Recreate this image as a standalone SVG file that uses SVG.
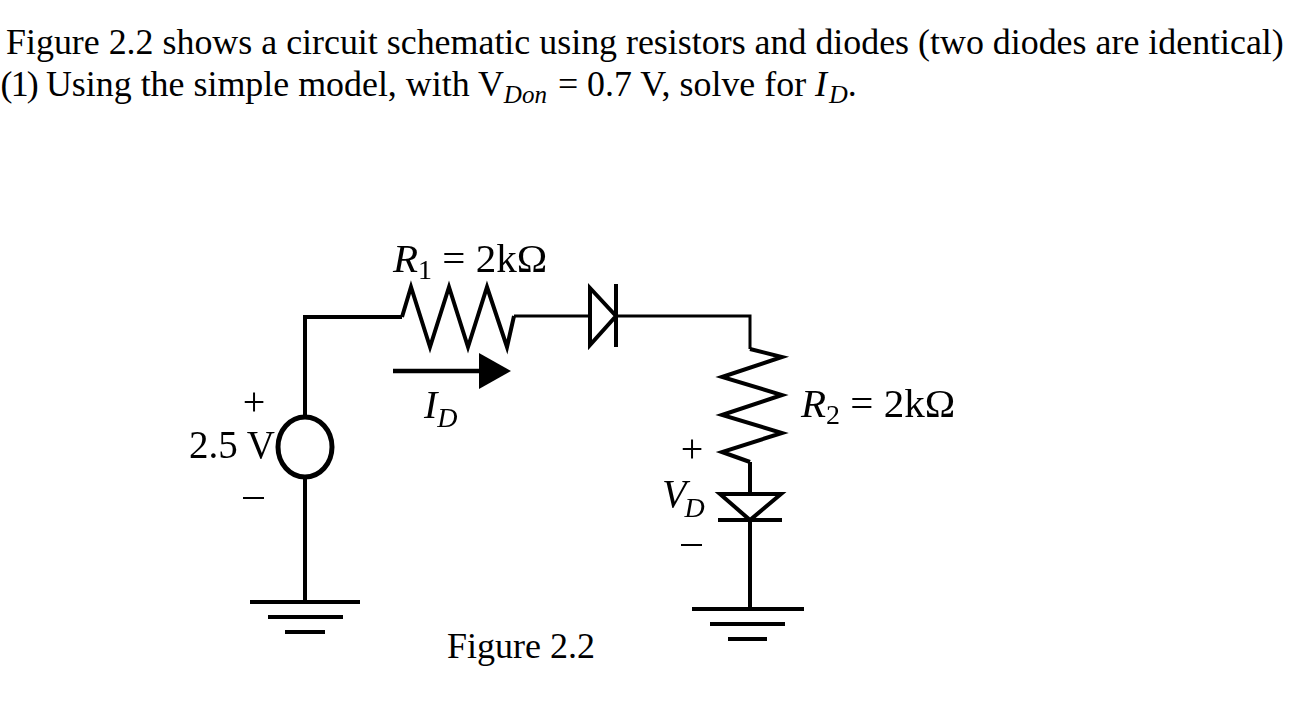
<svg xmlns="http://www.w3.org/2000/svg" width="1302" height="702" viewBox="0 0 1302 702">
<defs><filter id="soft" x="-5%" y="-5%" width="110%" height="110%"><feGaussianBlur stdDeviation="0.6"/></filter></defs>
<style>
text{font-family:"Liberation Serif","Times New Roman",serif;fill:#000}
.h{font-size:35.9px}
.l{font-size:40px}
.r{font-size:41px}
.i{font-style:italic}
.w{fill:none;stroke:#000;stroke-width:4;stroke-linejoin:miter}
.g{stroke:#000;stroke-width:4;fill:none}
.m{stroke:#000;stroke-width:2}
#circuit{filter:url(#soft)}
</style>
<rect width="1302" height="702" fill="#fff"/>
<g id="question">
<text class="h" x="6" y="54">Figure 2.2 shows a circuit schematic using resistors and diodes (two diodes are identical)</text>
<text class="h" x="0.5" y="96"><tspan letter-spacing="-1.8">(1)</tspan> Using the simple model, with V<tspan class="i" font-size="25" dy="7">Don</tspan><tspan dy="-7" dx="2"> = 0.7 V, solve for </tspan><tspan class="i">I</tspan><tspan class="i" font-size="26" dy="7" dx="2">D</tspan><tspan dy="-7">.</tspan></text>
</g>
<g id="circuit">
<g id="connectors">
<path class="w" d="M305 419V317H402"/>
<path class="w" d="M305 477V600"/>
<path class="w" d="M514 316H590" style="stroke-width:3"/>
<path class="w" d="M617 316H750V349" style="stroke-width:3"/>
<path class="w" d="M750 462V494"/>
<path class="w" d="M750 520V609"/>
</g>
<g id="source"><ellipse cx="305" cy="447" rx="27" ry="30" fill="#fff" stroke="#000" stroke-width="5"/>
<text x="189" y="458" style="font-size:39px">2.5 V</text>
<text class="l" x="254" y="415" text-anchor="middle">+</text>
<path class="m" d="M243 498H264"/>
</g>
<g id="R1"><path class="w" d="M402 317L411 287L430 347L449 287L468 347L487 287L507 347L514 316"/>
<text class="r" x="393" y="272"><tspan class="i">R</tspan><tspan font-size="28" dy="7">1</tspan><tspan dy="-7"> = 2kΩ</tspan></text></g>
<g id="D1"><path class="w" d="M590 288V345L616 316Z"/><path class="w" d="M616 284V347"/></g>
<g id="R2"><path class="w" d="M750 349L782 357L722 377L782 395L722 415L782 433L722 452L750 462"/>
<text class="r" x="801" y="417"><tspan class="i">R</tspan><tspan font-size="28" dy="7">2</tspan><tspan dy="-7"> = 2kΩ</tspan></text></g>
<g id="D2"><path class="w" d="M720 494H781L750 520Z"/><path class="w" d="M718 520H782"/>
<text class="l" x="692" y="462" text-anchor="middle">+</text>
<text class="l i" x="662" y="507">V<tspan font-size="28" dy="10" dx="-2">D</tspan></text>
<path class="m" d="M681 545H702"/>
</g>
<g id="current"><path d="M393 371H482" stroke="#000" stroke-width="4.5"/><path d="M479 353L511 371L479 389Z" fill="#000"/>
<text class="l i" x="424" y="418">I<tspan font-size="28" dy="9">D</tspan></text></g>
<g id="gnd1"><path class="g" d="M250 602H360M268 617H343M285 632H325"/></g>
<g id="gnd2"><path class="g" d="M692 609H804M710 624H785M728 639H767"/></g>
</g>
<g id="caption"><text x="447" y="658" style="font-size:36px">Figure 2.2</text></g>
</svg>
